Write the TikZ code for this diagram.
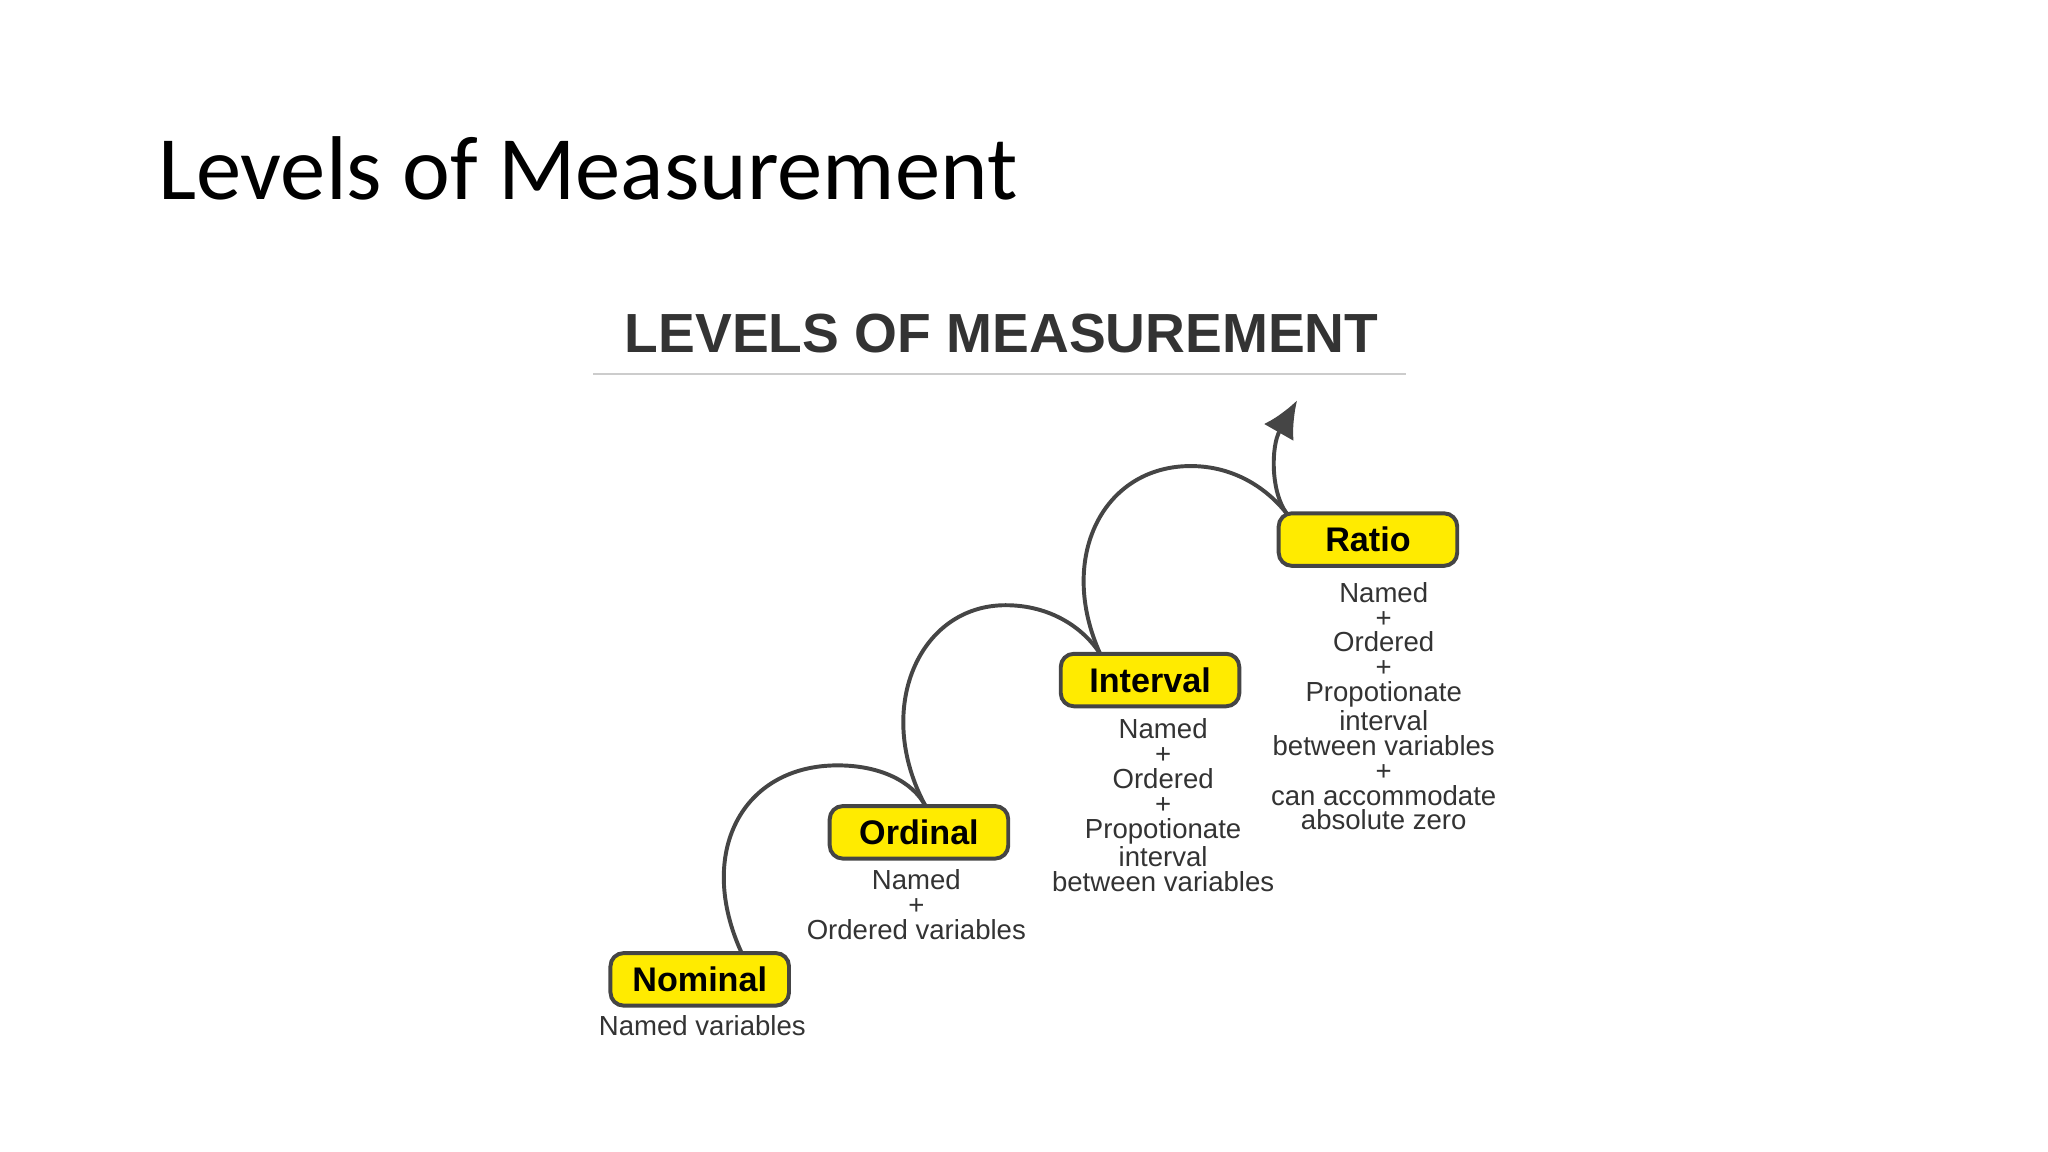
\documentclass[tikz,border=0pt]{standalone}
\usepackage{fontspec}
\setmainfont{Liberation Sans}
\newfontfamily\titlefont{Carlito}
\usetikzlibrary{arrows.meta}
\definecolor{boxyellow}{HTML}{FFEB00}
\definecolor{linegray}{HTML}{454545}
\definecolor{txtgray}{HTML}{333333}
\tikzset{
  lvlbox/.style={draw=linegray,line width=1.5pt,fill=boxyellow,rounded corners=5pt,minimum width=68pt,minimum height=20pt,inner sep=0pt,font=\fontsize{13}{13}\selectfont\bfseries,text=black},
  desc/.style={align=center,anchor=north,inner sep=0pt,font=\fontsize{10.5}{9.5}\selectfont,text=txtgray},
  loop/.style={draw=linegray,line width=1.5pt}
}
\begin{document}
\begin{tikzpicture}[x=0.5pt,y=-0.5pt]
\useasboundingbox (0,0) rectangle (1560,877.5);
\node[anchor=base west,inner sep=0pt,font=\titlefont\fontsize{34.5}{34.5}\selectfont] (title) at (120,152) {Levels of Measurement};
\node[inner sep=0pt,font=\fontsize{21}{21}\selectfont\bfseries,text=txtgray] (head) at (763,254) {LEVELS OF MEASUREMENT};
\coordinate (rl) at (452,285); \coordinate (rr) at (1071,285);
\draw[draw=black!20,line width=1pt] (rl) -- (rr);
\node[lvlbox] (nom) at (533,746) {Nominal};
\node[lvlbox] (ord) at (700,634) {Ordinal};
\node[lvlbox] (int) at (876,518) {Interval};
\node[lvlbox] (rat) at (1042,411) {Ratio};
\node[desc] (tnom) at (535,773) {Named variables};
\node[desc] (tord) at (698,662) {Named\\+\\Ordered variables};
\node[desc] (tint) at (886,547) {Named\\+\\Ordered\\+\\Propotionate\\interval\\between variables};
\node[desc] (trat) at (1054,443) {Named\\+\\Ordered\\+\\Propotionate\\interval\\between variables\\+\\can accommodate\\absolute zero};
\coordinate (a0) at (565,726);
\coordinate (a1) at (705,614);
\coordinate (a2) at (838,498);
\coordinate (a3) at (980,391);
\coordinate (tip) at (988,305);
\draw[loop] (a0) .. controls (530,650) and (565,583) .. (638,583) .. controls (670,583) and (695,595) .. (a1);
\draw[loop] (a1) .. controls (665,540) and (700,461) .. (766,461) .. controls (800,461) and (825,478) .. (a2);
\draw[loop] (a2) .. controls (805,425) and (840,355) .. (907,355) .. controls (940,355) and (965,372) .. (a3);
\draw[loop,-{Latex[length=14pt,width=13pt]}] (a3) .. controls (968,375) and (968,340) .. (tip);
\end{tikzpicture}
\end{document}
